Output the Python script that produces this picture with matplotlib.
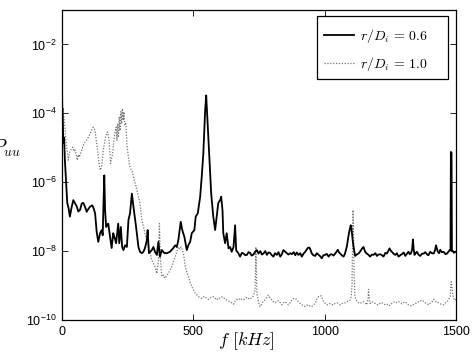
import numpy as np
import matplotlib
matplotlib.use("Agg")
import matplotlib.pyplot as plt
from matplotlib.patches import Rectangle

plt.rcParams['font.family'] = ['Liberation Sans', 'DejaVu Sans']
plt.rcParams['mathtext.fontset'] = 'cm'

# ---- data ----
# r/D_i = 0.6 (solid): (frequency [kHz], log10 P_uu)
solid_points = [
    (0, -3.95), (2, -3.85), (5, -4.85), (8, -4.7), (11, -5.36), (15, -5.9), (20, -6.6),
    (25, -6.75), (30, -7.0), (36, -6.75), (43, -6.52), (50, -6.62), (56, -6.7),
    (62, -6.85), (69, -6.8), (75, -6.62), (81, -6.6), (88, -6.72), (94, -6.86),
    (100, -6.78), (107, -6.71), (115, -6.67), (120, -6.75), (126, -6.9), (132, -7.44),
    (138, -7.73), (145, -7.48), (151, -7.39), (155, -7.54), (158, -6.6), (161, -5.8),
    (164, -6.8), (168, -7.3), (176, -7.2), (183, -7.59), (189, -7.91), (195, -7.48),
    (200, -7.6), (206, -7.77), (214, -7.2), (218, -7.77), (224, -7.3), (229, -7.88),
    (234, -7.97), (240, -7.83), (247, -7.88), (253, -7.1), (259, -6.9), (266, -6.33),
    (272, -6.71), (282, -7.3), (291, -7.88), (297, -8.02), (304, -8.06), (310, -8.02),
    (316, -7.91), (323, -7.68), (326, -7.39), (331, -8.06), (342, -7.97), (348, -7.88),
    (354, -8.02), (361, -8.11), (367, -7.73), (373, -8.16), (380, -7.97), (390, -8.06),
    (399, -8.06), (411, -8.02), (424, -7.91), (431, -7.83), (437, -7.88), (443, -7.68),
    (452, -7.15), (458, -7.39), (466, -7.59), (475, -7.97), (481, -7.83), (488, -7.73),
    (494, -7.48), (504, -7.39), (509, -7.0), (517, -6.9), (526, -6.42), (532, -5.84),
    (538, -5.17), (545, -3.91), (549, -3.48), (555, -4.4), (561, -5.36), (568, -6.33),
    (576, -7.0), (583, -7.39), (589, -7.0), (595, -6.6), (602, -6.52), (606, -6.42),
    (611, -6.81), (614, -7.48), (621, -7.77), (627, -7.48), (634, -7.92), (640, -7.88),
    (646, -8.02), (653, -7.88), (659, -7.25), (663, -7.97), (672, -8.07), (678, -8.16),
    (685, -8.05), (691, -8.07), (698, -8.12), (704, -8.11), (710, -8.03), (716, -8.05),
    (722, -8.13), (729, -8.1), (735, -8.02), (742, -7.97), (748, -8.07), (755, -8.0),
    (761, -8.1), (767, -8.07), (774, -8.0), (780, -8.11), (786, -8.04), (792, -8.05),
    (799, -8.12), (805, -8.16), (811, -8.06), (818, -8.11), (824, -8.03), (831, -8.16),
    (837, -8.09), (843, -7.97), (850, -8.02), (856, -8.06), (862, -8.1), (869, -8.06),
    (875, -8.09), (882, -8.03), (888, -8.12), (894, -8.04), (900, -8.11), (907, -8.06),
    (913, -8.16), (919, -8.08), (926, -8.02), (932, -7.95), (937, -7.9), (942, -7.9),
    (947, -7.98), (951, -8.07), (957, -8.12), (964, -8.14), (970, -8.06), (977, -8.11),
    (983, -8.15), (989, -8.21), (995, -8.12), (1002, -8.11), (1008, -8.08),
    (1015, -8.16), (1021, -8.1), (1027, -8.09), (1034, -8.13), (1040, -8.07),
    (1045, -8.02), (1050, -7.96), (1055, -8.04), (1059, -8.07), (1065, -8.12),
    (1072, -8.16), (1077, -8.08), (1081, -7.97), (1085, -7.85), (1088, -7.68),
    (1092, -7.5), (1095, -7.39), (1099, -7.25), (1101, -7.28), (1104, -7.49),
    (1107, -7.7), (1110, -7.88), (1116, -8.14), (1122, -8.1), (1129, -8.07),
    (1136, -8.0), (1142, -7.93), (1148, -7.88), (1154, -8.02), (1160, -8.07),
    (1167, -8.11), (1173, -8.16), (1180, -8.1), (1186, -8.11), (1193, -8.06),
    (1199, -8.14), (1205, -8.1), (1212, -8.09), (1218, -8.12), (1224, -8.16),
    (1231, -8.05), (1237, -8.07), (1242, -8.0), (1247, -7.92), (1251, -7.98),
    (1256, -8.02), (1263, -8.08), (1269, -8.11), (1275, -8.06), (1281, -8.16),
    (1288, -8.12), (1294, -8.09), (1301, -8.04), (1307, -8.14), (1313, -8.08),
    (1319, -8.02), (1324, -8.09), (1328, -8.07), (1333, -7.95), (1336, -7.66),
    (1339, -7.95), (1342, -8.11), (1347, -8.05), (1351, -8.02), (1357, -8.1),
    (1364, -8.14), (1370, -8.08), (1377, -8.07), (1383, -8.03), (1389, -8.09),
    (1395, -8.12), (1402, -8.02), (1408, -8.06), (1415, -8.07), (1420, -7.98),
    (1424, -7.83), (1428, -7.95), (1431, -8.02), (1436, -8.06), (1440, -7.96),
    (1446, -8.03), (1453, -8.02), (1460, -8.09), (1466, -8.07), (1471, -8.02),
    (1476, -7.97), (1479, -7.97), (1480.5, -5.12), (1483, -5.15), (1484.5, -7.97),
    (1488, -8.0), (1492, -8.05), (1497, -8.02), (1500, -8.02),
]

# r/D_i = 1.0 (dotted): (frequency [kHz], log10 P_uu)
dot_points = [
    (0, -3.0), (2, -3.6), (4, -4.0), (7, -4.1), (11, -4.4), (14, -4.7), (18, -4.98),
    (24, -5.36), (28, -5.15), (33, -5.07), (41, -4.98), (46, -5.1), (50, -5.07),
    (54, -5.2), (58, -5.36), (62, -5.2), (66, -5.27), (71, -5.15), (75, -5.07),
    (80, -4.95), (84, -4.88), (89, -4.82), (94, -4.78), (100, -4.7), (107, -4.59),
    (113, -4.48), (119, -4.4), (123, -4.45), (126, -4.49), (129, -4.7), (132, -4.88),
    (135, -5.05), (138, -5.27), (141, -5.45), (145, -5.65), (148, -5.6), (151, -5.56),
    (154, -5.3), (157, -5.07), (161, -4.9), (166, -4.68), (169, -4.6), (173, -4.54),
    (176, -4.65), (179, -4.78), (182, -5.1), (185, -5.46), (189, -5.3), (193, -5.17),
    (196, -4.9), (199, -4.68), (203, -4.5), (206, -4.4), (209, -4.8), (212, -4.3),
    (215, -4.7), (218, -4.1), (221, -4.5), (224, -3.95), (227, -4.3), (230, -3.86),
    (233, -4.2), (236, -3.96), (239, -4.35), (243, -4.3), (247, -4.88), (250, -5.1),
    (253, -5.27), (256, -5.45), (259, -5.56), (262, -5.62), (266, -5.65), (269, -5.75),
    (272, -5.84), (277, -6.0), (282, -6.13), (286, -6.25), (291, -6.42), (297, -6.62),
    (304, -7.1), (310, -7.3), (316, -7.49), (323, -7.7), (329, -7.88), (335, -8.05),
    (342, -8.26), (348, -8.35), (354, -8.46), (358, -8.55), (361, -8.65), (365, -8.4),
    (367, -8.26), (369, -7.6), (371, -7.2), (373, -7.8), (375, -8.26), (380, -8.74),
    (386, -8.7), (392, -8.79), (398, -8.72), (405, -8.65), (411, -8.55), (418, -8.46),
    (424, -8.3), (431, -8.16), (437, -8.02), (443, -7.88), (448, -7.95), (453, -7.88),
    (458, -7.95), (462, -8.07), (466, -8.25), (469, -8.46), (475, -8.6), (481, -8.74),
    (488, -8.9), (494, -9.03), (500, -9.12), (507, -9.23), (513, -9.27), (519, -9.32),
    (526, -9.35), (532, -9.37), (538, -9.33), (545, -9.32), (551, -9.38), (557, -9.4),
    (564, -9.36), (570, -9.34), (576, -9.32), (583, -9.37), (589, -9.42), (595, -9.36),
    (602, -9.37), (608, -9.33), (614, -9.34), (621, -9.4), (627, -9.42), (634, -9.45),
    (640, -9.47), (646, -9.5), (653, -9.54), (659, -9.45), (665, -9.4), (672, -9.42),
    (678, -9.37), (685, -9.4), (691, -9.42), (697, -9.38), (704, -9.34), (710, -9.38),
    (716, -9.4), (722, -9.35), (727, -9.32), (731, -9.25), (735, -9.13), (737, -8.5),
    (738, -7.88), (740, -8.6), (742, -9.23), (745, -9.35), (748, -9.47), (754, -9.61),
    (761, -9.52), (767, -9.45), (773, -9.42), (779, -9.35), (786, -9.28), (792, -9.36),
    (799, -9.42), (805, -9.47), (812, -9.5), (818, -9.46), (824, -9.44), (831, -9.5),
    (837, -9.56), (843, -9.5), (850, -9.47), (856, -9.52), (862, -9.56), (869, -9.5),
    (875, -9.42), (881, -9.38), (888, -9.37), (894, -9.42), (900, -9.47), (907, -9.52),
    (913, -9.56), (919, -9.58), (926, -9.61), (932, -9.57), (938, -9.56), (945, -9.6),
    (951, -9.61), (958, -9.55), (964, -9.52), (970, -9.4), (977, -9.32), (983, -9.3),
    (987, -9.3), (992, -9.4), (996, -9.47), (1002, -9.52), (1008, -9.56), (1015, -9.54),
    (1021, -9.52), (1027, -9.55), (1034, -9.56), (1040, -9.52), (1047, -9.5),
    (1053, -9.53), (1059, -9.56), (1066, -9.52), (1072, -9.52), (1078, -9.5),
    (1085, -9.47), (1091, -9.45), (1097, -9.42), (1101, -9.32), (1104, -9.0),
    (1106, -8.0), (1108, -6.81), (1110, -7.5), (1112, -8.6), (1115, -9.32),
    (1119, -9.4), (1124, -9.47), (1129, -9.5), (1135, -9.52), (1142, -9.49),
    (1148, -9.47), (1154, -9.5), (1160, -9.56), (1165, -9.4), (1167, -9.11),
    (1169, -9.3), (1173, -9.52), (1179, -9.47), (1186, -9.5), (1192, -9.52),
    (1199, -9.55), (1205, -9.56), (1212, -9.5), (1218, -9.5), (1224, -9.53),
    (1231, -9.56), (1237, -9.54), (1244, -9.59), (1250, -9.55), (1256, -9.52),
    (1263, -9.48), (1269, -9.47), (1275, -9.5), (1282, -9.47), (1288, -9.5),
    (1294, -9.53), (1300, -9.5), (1307, -9.47), (1313, -9.52), (1319, -9.56),
    (1326, -9.58), (1332, -9.59), (1338, -9.55), (1345, -9.52), (1351, -9.5),
    (1357, -9.47), (1364, -9.45), (1370, -9.42), (1377, -9.46), (1383, -9.5),
    (1390, -9.53), (1396, -9.56), (1402, -9.52), (1409, -9.47), (1415, -9.4),
    (1421, -9.45), (1428, -9.5), (1434, -9.5), (1440, -9.53), (1447, -9.55),
    (1453, -9.56), (1460, -9.5), (1466, -9.47), (1472, -9.4), (1478, -9.32),
    (1480, -9.0), (1482, -8.89), (1484, -9.0), (1487, -9.23), (1490, -9.35),
    (1493, -9.42), (1497, -9.42), (1500, -9.4),
]

label_solid = r'$r/D_i\, =\, 0.6$'
label_dot = r'$r/D_i\, =\, 1.0$'
xticks = [0, 500, 1000, 1500]
yticks = [1e-10, 1e-8, 1e-6, 1e-4, 1e-2]
ytick_labels = [r'$\mathregular{10^{-10}}$', r'$\mathregular{10^{-8}}$',
                r'$\mathregular{10^{-6}}$', r'$\mathregular{10^{-4}}$',
                r'$\mathregular{10^{-2}}$']

f_solid = [p[0] for p in solid_points]
y_solid = np.power(10.0, np.array([p[1] for p in solid_points]))
f_dot = [p[0] for p in dot_points]
y_dot = np.power(10.0, np.array([p[1] for p in dot_points]))

# ---- figure ----
W, H = 474, 353
fig = plt.figure(figsize=(W / 100, H / 100), dpi=100)
ax = fig.add_axes([62 / W, 1 - 320 / H, (456 - 62) / W, (320 - 10) / H])

ax.plot(f_dot, y_dot, color='0.45', linestyle=(0, (1, 1.3)), linewidth=0.9, label=label_dot)
ax.plot(f_solid, y_solid, color='black', linewidth=1.3, label=label_solid)

ax.set_yscale('log')
ax.set_xlim(0, 1500)
ax.set_ylim(1e-10, 1e-1)
ax.set_xticks(xticks)
ax.set_xticklabels([str(t) for t in xticks])
ax.set_yticks(yticks)
ax.set_yticklabels(ytick_labels)
ax.yaxis.set_minor_locator(matplotlib.ticker.NullLocator())
ax.tick_params(direction='in', length=4, width=0.6, top=True, right=True,
               labelsize=9, pad=4)
for s in ax.spines.values():
    s.set_linewidth(0.9)

fig.text(246.5 / W, 1 - 341 / H, r'$f\ [kHz]$', fontsize=13, ha='center', va='center')
fig.text(21 / W, 1 - 148 / H, r'$P_{uu}$', fontsize=14, ha='right', va='center')

# legend frame (MATLAB-style box) + entries
frame = Rectangle((317 / W, 1 - 79 / H), 131 / W, 63 / H, transform=fig.transFigure,
                  facecolor='white', edgecolor='black', linewidth=0.9, zorder=4)
ax.add_patch(frame)
frame.set_clip_on(False)

handles, labels = ax.get_legend_handles_labels()
leg = ax.legend(handles[::-1], labels[::-1], loc='upper left',
                bbox_to_anchor=(324 / W, 1 - 27 / H), bbox_transform=fig.transFigure,
                fontsize=10, frameon=False, borderpad=0, labelspacing=0.72,
                handlelength=2.16, handletextpad=0.43, borderaxespad=0)
leg.set_zorder(5)

fig.savefig('out.png', dpi=100)
